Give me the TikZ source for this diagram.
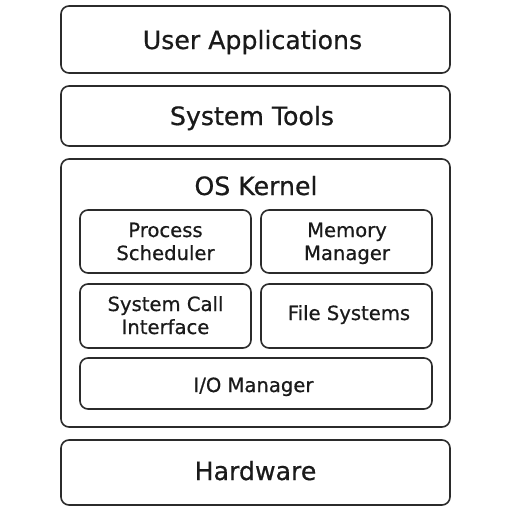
\documentclass[tikz,border=0pt]{standalone}
\usepackage{fontspec}
\setmainfont{DejaVu Sans}
\newfontfamily\medfont[FakeBold=0.6]{DejaVu Sans}
\definecolor{edge}{HTML}{2B2B2B}
\definecolor{ink}{HTML}{1A1A1A}
\tikzset{
  layer/.style={draw=edge, line width=1.6pt, rounded corners=8pt},
  bigtext/.style={text=ink, font=\medfont\fontsize{25.2}{30}\selectfont, inner sep=0pt, anchor=base},
  smalltext/.style={text=ink, font=\medfont\fontsize{19.6}{23}\selectfont, align=center, inner sep=0pt, anchor=base},
}
\begin{document}
\begin{tikzpicture}[x=1pt,y=-1pt]
\useasboundingbox (0,0) rectangle (512,512);
\fill[white] (0,0) rectangle (512,512);
% outer layers
\draw[layer] (61,6) rectangle (450,73);
\draw[layer] (61,86) rectangle (450,146);
\draw[layer] (61,159) rectangle (450,427);
\draw[layer] (61,440) rectangle (450,505);
% inner boxes
\draw[layer] (80,210) rectangle (251,273);
\draw[layer] (261,210) rectangle (432,273);
\draw[layer] (80,284) rectangle (251,348);
\draw[layer] (261,284) rectangle (432,348);
\draw[layer] (80,358) rectangle (432,409);
% texts
\node[bigtext] (ua) at (252.5,49) {User Applications};
\node[bigtext] (st) at (252,125) {System Tools};
\node[bigtext] (ok) at (256,195) {OS Kernel};
\node[bigtext] (hw) at (255.5,480) {Hardware};
\node[smalltext] (ps) at (165.5,260) {Process\\Scheduler};
\node[smalltext] (mm) at (347,260) {Memory\\Manager};
\node[smalltext] (sc) at (165.5,334) {System Call\\Interface};
\node[smalltext] (fs) at (349,320) {File Systems};
\node[smalltext] (io) at (253.5,392) {I/O Manager};
\end{tikzpicture}
\end{document}
